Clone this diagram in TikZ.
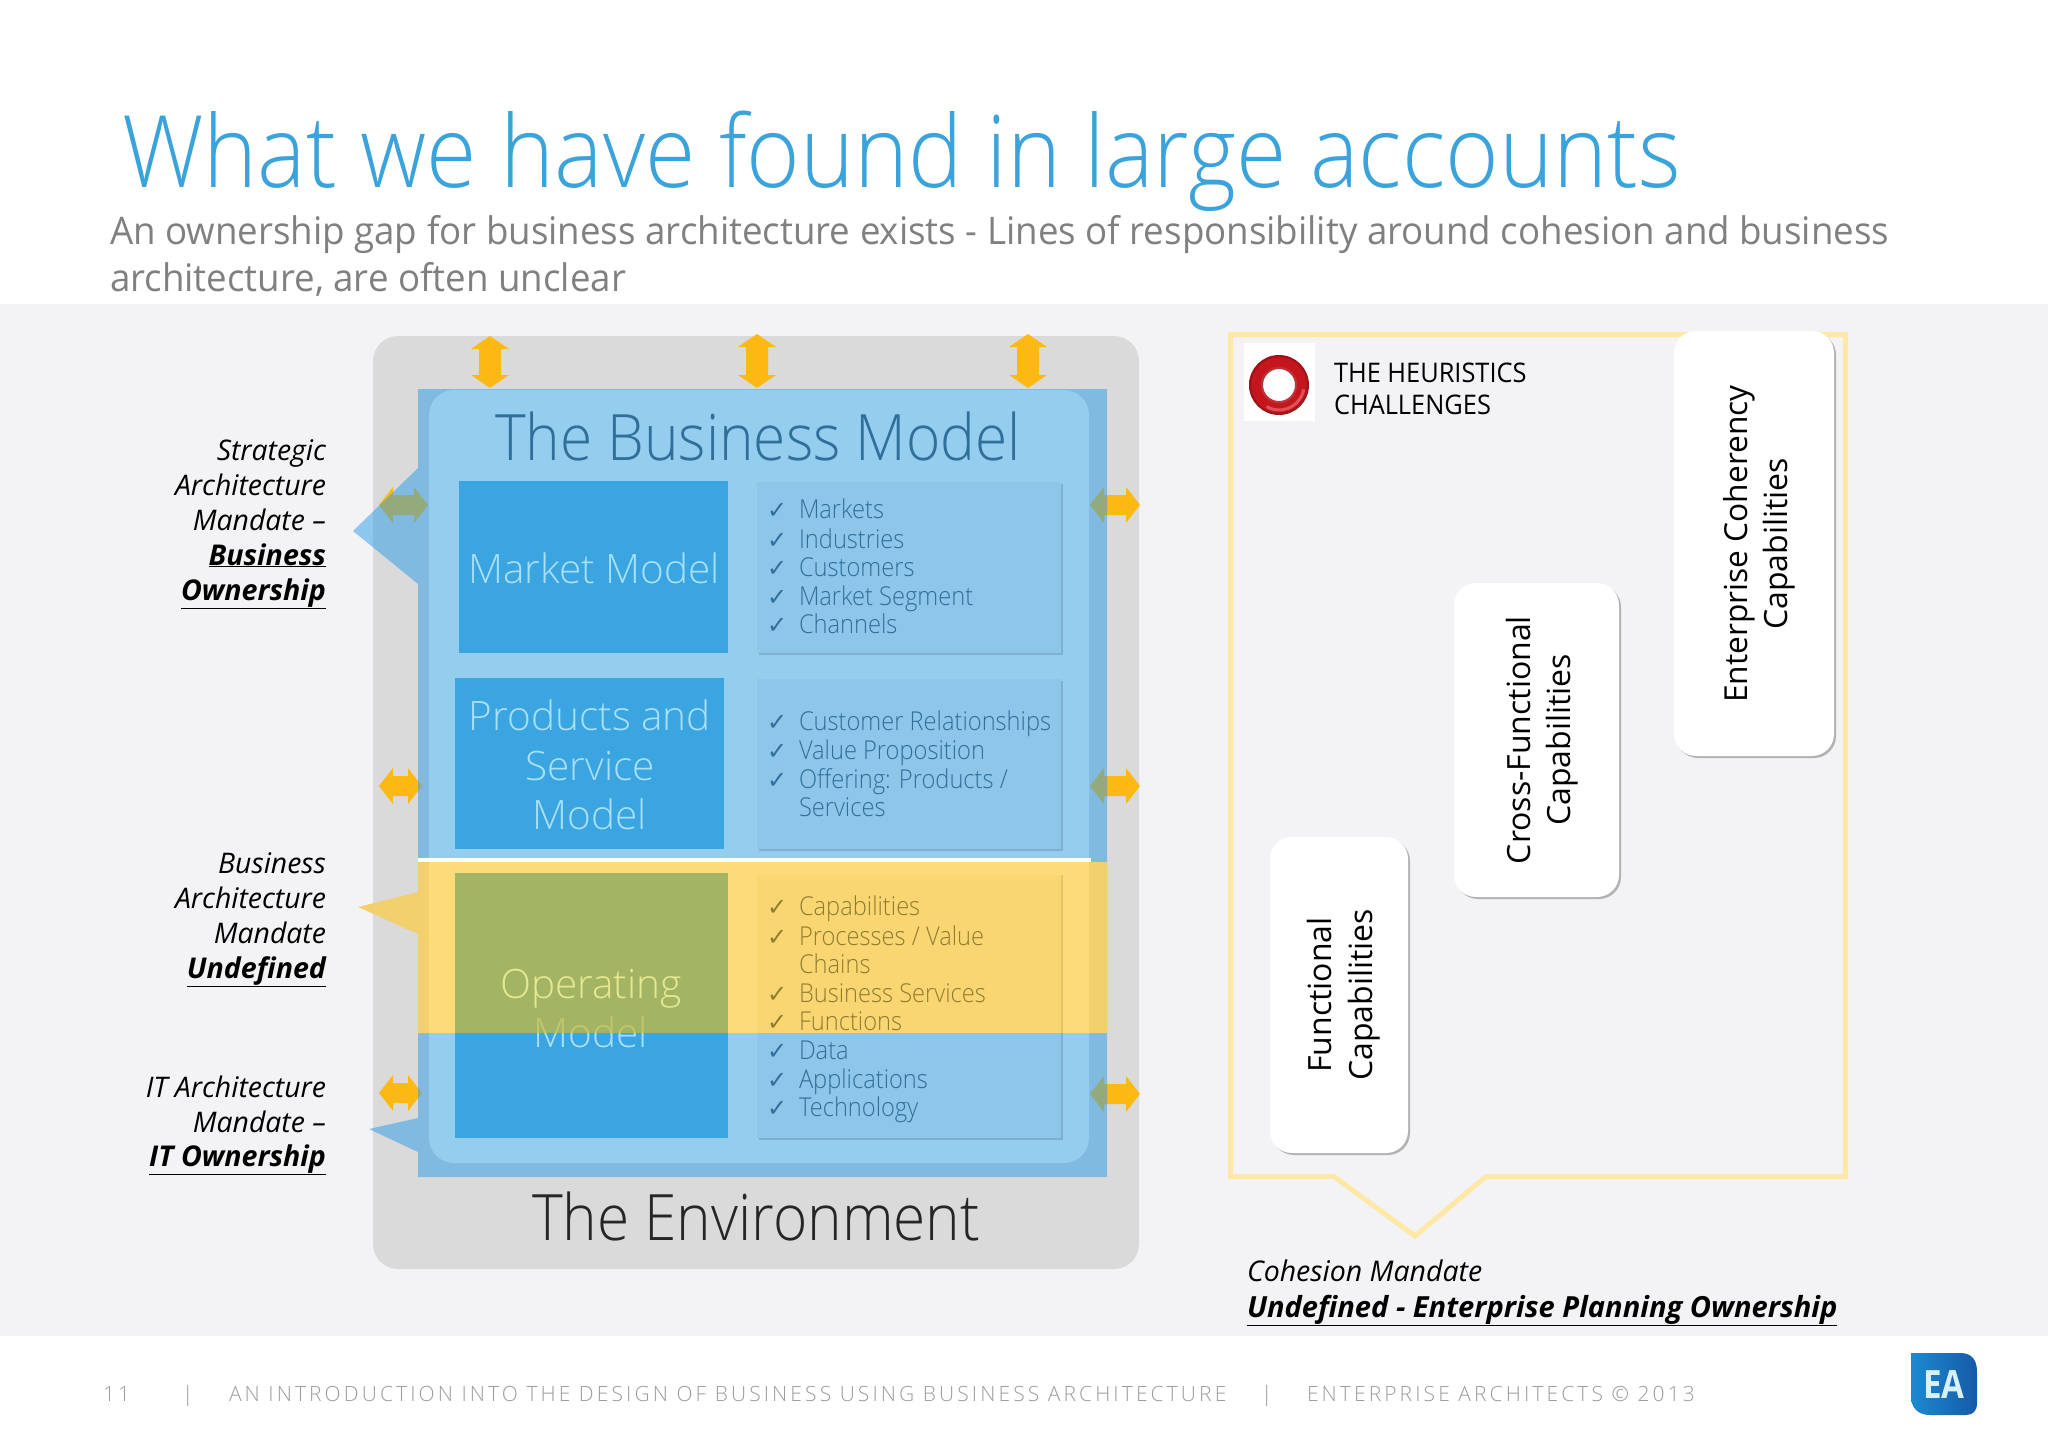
\documentclass[tikz,border=0pt]{standalone}
\usepackage{fontspec}
\setmainfont{Open Sans}
\newfontfamily\lightf{Open Sans Light}
\newfontfamily\titlef[FakeStretch=0.915]{Open Sans Light}
\newfontfamily\narrowf[FakeStretch=0.91]{Open Sans Light}
\newfontfamily\subf[FakeStretch=0.965]{Open Sans}
\newfontfamily\headf[FakeStretch=0.94]{Open Sans}
\newfontfamily\eaf[FakeStretch=0.85]{Open Sans}
\newfontfamily\dejavu{DejaVu Sans}
\newfontfamily\footf[LetterSpace=14.8]{Open Sans Light}
\usetikzlibrary{shadings}
\definecolor{bandc}{HTML}{F3F3F5}
\definecolor{envc}{HTML}{DADADA}
\definecolor{titlec}{HTML}{3AA3DC}
\definecolor{subc}{HTML}{808080}
\definecolor{arrowc}{HTML}{FDB913}
\definecolor{bluealpha}{HTML}{2A9CE6}
\definecolor{innerc}{HTML}{95CDEF}
\definecolor{boxc}{HTML}{3AA5E1}
\definecolor{panelc}{HTML}{8EC6EA}
\definecolor{panelsh}{HTML}{7FB0D2}
\definecolor{yelouter}{HTML}{F2D06E}
\definecolor{yelinner}{HTML}{FDDB7A}
\definecolor{yelpanel}{HTML}{FAD673}
\definecolor{yelsh}{HTML}{E6C468}
\definecolor{greenov}{HTML}{D0BC31}
\definecolor{framec}{HTML}{FDE8A6}
\definecolor{headc}{HTML}{2F6F99}
\definecolor{mmc}{HTML}{A8E0FA}
\definecolor{opc}{HTML}{E6E890}
\definecolor{olivec}{HTML}{8F7D30}
\definecolor{listc}{HTML}{2F6F99}
\definecolor{footc}{HTML}{9C9C9C}
\definecolor{ringc}{HTML}{C4161C}
\definecolor{ringd}{HTML}{9E1015}
\definecolor{ringl}{HTML}{E4616A}
\definecolor{ealeft}{HTML}{1C8AD0}
\definecolor{earight}{HTML}{165AA8}
\definecolor{eatext}{HTML}{D8F0FA}
\tikzset{
  txt/.style={inner sep=0pt,outer sep=0pt,anchor=base west},
  txtc/.style={inner sep=0pt,outer sep=0pt,anchor=base},
  txte/.style={inner sep=0pt,outer sep=0pt,anchor=base east},
  item/.style={txt,font=\narrowf\fontsize{26}{26}\selectfont,text=listc},
  yitem/.style={item,text=olivec},
  boxlab/.style={txtc,font=\lightf\fontsize{40.5}{40}\selectfont,text=mmc},
  ital/.style={txte,font=\itshape\fontsize{28.4}{28}\selectfont,text=black},
  boldital/.style={txte,font=\itshape\bfseries\fontsize{28.6}{29}\selectfont,text=black},
  card/.style={fill=white,rounded corners=22pt,draw=none},
  cardsh/.style={fill=black!30,rounded corners=22pt,draw=none},
  cardtxt/.style={inner sep=0pt,outer sep=0pt,anchor=base,rotate=90,font=\fontsize{32}{32}\selectfont,text=black},
  foot/.style={txt,font=\footf\fontsize{21}{21}\selectfont,text=footc}
}
\newcommand{\ck}{{\dejavu\fontsize{24}{24}\selectfont\makebox[30pt][l]{\hspace{-2pt}✓}}}
% vertical double arrow: centre x, top y, bottom y
\newcommand{\vdbl}[3]{\fill[arrowc] (#1,#2) -- (#1+19,#2+13) -- (#1+11,#2+13) -- (#1+11,#3-13) -- (#1+19,#3-13) -- (#1,#3) -- (#1-19,#3-13) -- (#1-11,#3-13) -- (#1-11,#2+13) -- (#1-19,#2+13) -- cycle;}
% horizontal double arrow: left x, right x, centre y
\newcommand{\hdbl}[3]{\fill[arrowc] (#1,#3) -- (#1+14,#3-18) -- (#1+14,#3-10) -- (#2-14,#3-10) -- (#2-14,#3-18) -- (#2,#3) -- (#2-14,#3+18) -- (#2-14,#3+10) -- (#1+14,#3+10) -- (#1+14,#3+18) -- cycle;}
\begin{document}
\begin{tikzpicture}[x=1pt,y=-1pt]
\useasboundingbox (0,0) rectangle (2048,1448);
\fill[white] (0,0) rectangle (2048,1448);
\fill[bandc] (0,304) rectangle (2048,1336);
% titles
\node[txt,font=\titlef\fontsize{100}{100}\selectfont,text=titlec] (title) at (122,187) {What we have found in large accounts};
\node[txt,font=\subf\fontsize{38}{38}\selectfont,text=subc] (sub1) at (110,244) {An ownership gap for business architecture exists - Lines of responsibility around cohesion and business};
\node[txt,font=\subf\fontsize{38}{38}\selectfont,text=subc] (sub2) at (110,291) {architecture, are often unclear};
% environment
\fill[envc,rounded corners=25pt] (373,336) rectangle (1139,1269);
\vdbl{490}{336}{388}
\vdbl{757}{334}{388}
\vdbl{1028}{334}{388}
\hdbl{379}{428}{505}
\hdbl{379}{422}{786}
\hdbl{379}{422}{1093}
\hdbl{1090}{1140}{505}
\hdbl{1090}{1140}{786}
\hdbl{1090}{1140}{1094}
% translucent blue body with two callouts
\fill[bluealpha,opacity=.5] (418,389) -- (1107,389) -- (1107,1177) -- (418,1177) -- (418,1152) -- (369,1129) -- (418,1118) -- (418,584) -- (353,531) -- (418,468) -- cycle;
\fill[innerc,rounded corners=25pt] (429,390) rectangle (1089,1163);
% yellow band with callout
\fill[yelouter] (418,862) -- (1107,862) -- (1107,1033) -- (418,1033) -- (418,934) -- (358,907) -- (418,892) -- cycle;
\fill[yelinner] (429,862) rectangle (1089,1033);
\fill[white] (418,858) rectangle (1091,862);
% boxes
\fill[boxc] (459,481) rectangle (728,653);
\fill[boxc] (455,678) rectangle (724,849);
\fill[boxc] (455,873) rectangle (728,1138);
% panels
\fill[panelsh] (759,484) rectangle (1063,655);
\fill[panelc] (757,482) rectangle (1061,653);
\fill[panelsh] (759,681) rectangle (1063,851);
\fill[panelc] (757,679) rectangle (1061,849);
\fill[panelsh] (759,877) rectangle (1063,1140);
\fill[panelc] (757,875) rectangle (1061,1138);
\fill[yelsh] (1061,875) rectangle (1063,1033);
\fill[yelpanel] (757,875) rectangle (1061,1033);
% headings
\node[txtc,font=\titlef\fontsize{64}{64}\selectfont,text=headc] (bm) at (758,460) {The Business Model};
\node[txtc,font=\titlef\fontsize{64}{64}\selectfont,text=black!85] (envt) at (756,1240) {The Environment};
\node[boxlab] (mm) at (594,583) {Market Model};
\node[boxlab] (ps1) at (590,730) {Products and};
\node[boxlab] (ps2) at (590,780) {Service};
\node[boxlab] (ps3) at (590,829) {Model};
\node[boxlab] (om2) at (591,1047) {Model};
\fill[greenov,opacity=.7] (455,873) rectangle (728,1033);
\node[boxlab,text=opc] (om1) at (591,998) {Operating};
% lists
\node[item] (l1) at (769,518) {\ck Markets};
\node[item] (l2) at (769,548) {\ck Industries};
\node[item] (l3) at (769,576) {\ck Customers};
\node[item] (l4) at (769,605) {\ck Market Segment};
\node[item] (l5) at (769,633) {\ck Channels};
\node[item] (p1) at (769,730) {\ck Customer Relationships};
\node[item] (p2) at (769,759) {\ck Value Proposition};
\node[item] (p3) at (769,788) {\ck Offering: Products /};
\node[item] (p4) at (799,816) {Services};
\node[yitem] (o1) at (769,915) {\ck Capabilities};
\node[yitem] (o2) at (769,945) {\ck Processes / Value};
\node[yitem] (o3) at (799,973) {Chains};
\node[yitem] (o4) at (769,1002) {\ck Business Services};
\node[yitem] (o5) at (769,1030) {\ck Functions};
\node[item] (o6) at (769,1059) {\ck Data};
\node[item] (o7) at (769,1088) {\ck Applications};
\node[item] (o8) at (769,1116) {\ck Technology};
% left labels
\node[ital] (a1) at (326,460) {Strategic};
\node[ital] (a2) at (326,495) {Architecture};
\node[ital] (a3) at (326,530) {Mandate –};
\node[boldital] (a4) at (326,565) {\underline{Business}};
\node[boldital] (a5) at (326,600) {\underline{Ownership}};
\node[ital] (b1) at (326,873) {Business};
\node[ital] (b2) at (326,908) {Architecture};
\node[ital] (b3) at (326,943) {Mandate};
\node[boldital] (b4) at (326,978) {\underline{Undefined}};
\node[ital] (c1) at (326,1097) {IT Architecture};
\node[ital] (c2) at (326,1132) {Mandate –};
\node[boldital] (c3) at (326,1166) {\underline{IT Ownership}};
% right frame
\draw[framec,line width=5pt,line join=miter] (1230.5,334.5) -- (1845.5,334.5) -- (1845.5,1176.5) -- (1486,1176.5) -- (1415,1236) -- (1334,1176.5) -- (1230.5,1176.5) -- cycle;
% logo
\fill[white] (1244,343) rectangle (1315,421);
\shade[even odd rule,inner color=ringl,outer color=ringd] (1279,385) circle (30) (1279,385) circle (16);
\draw[ringc,line width=9pt] (1279,385) circle (23);
\draw[ringl,line width=3pt,opacity=.8] (1279,385) +(10:25) arc (10:120:25);
\node[txt,font=\headf\fontsize{27}{27}\selectfont] (h1) at (1334,382) {THE HEURISTICS};
\node[txt,font=\headf\fontsize{27}{27}\selectfont] (h2) at (1334,414) {CHALLENGES};
% cards
\fill[cardsh] (1676,333) rectangle (1836,758);
\fill[card] (1674,331) rectangle (1834,756);
\node[cardtxt,font=\fontsize{31.7}{32}\selectfont] (e1) at (1747,544) {Enterprise Coherency};
\node[cardtxt] (e2) at (1787,544) {Capabilities};
\fill[cardsh] (1456,585) rectangle (1621,899);
\fill[card] (1454,583) rectangle (1619,897);
\node[cardtxt] (x1) at (1530,740) {Cross-Functional};
\node[cardtxt] (x2) at (1570,740) {Capabilities};
\fill[cardsh] (1272,839) rectangle (1410,1155);
\fill[card] (1270,837) rectangle (1408,1153);
\node[cardtxt] (f1) at (1331,995) {Functional};
\node[cardtxt] (f2) at (1372,995) {Capabilities};
% cohesion
\node[txt,font=\itshape\fontsize{28.5}{28}\selectfont] (m1) at (1247,1281) {Cohesion Mandate};
\node[txt,font=\itshape\bfseries\fontsize{29.1}{29}\selectfont] (m2) at (1247,1317) {\underline{Undefined - Enterprise Planning Ownership}};
% footer
\node[foot] (f11) at (103,1401) {11};
\node[foot] (s1) at (182,1401) {|};
\node[foot] (ft1) at (229,1401) {AN INTRODUCTION INTO THE DESIGN OF BUSINESS USING BUSINESS ARCHITECTURE};
\node[foot] (s2) at (1261,1401) {|};
\node[foot] (ft2) at (1307,1401) {ENTERPRISE ARCHITECTS © 2013};
% EA logo
\path[left color=ealeft,right color=earight] (1911,1353) -- (1960,1353) .. controls (1972,1353) and (1977,1360) .. (1977,1372) -- (1977,1403) .. controls (1977,1411) and (1973,1415) .. (1966,1415) -- (1930,1415) .. controls (1918,1415) and (1911,1408) .. (1911,1396) -- cycle;
\node[txtc,font=\eaf\bfseries\fontsize{39}{39}\selectfont,text=eatext] (ea) at (1944,1398) {EA};
\end{tikzpicture}
\end{document}
